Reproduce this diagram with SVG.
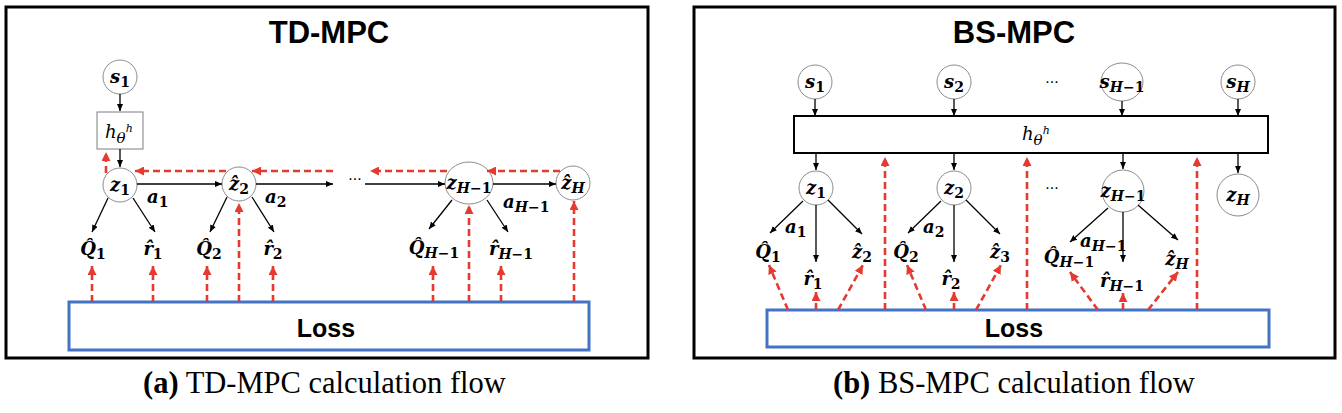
<svg xmlns="http://www.w3.org/2000/svg" width="1342" height="413" viewBox="0 0 1342 413">
<style>
.frame{fill:#fff;stroke:#000;stroke-width:3}
.title{font-family:"Liberation Sans",Arial,sans-serif;font-weight:bold;font-size:31px;fill:#000}
.loss{fill:#fff;stroke:#4472C4;stroke-width:3}
.losst{font-family:"Liberation Sans",Arial,sans-serif;font-weight:bold;font-size:25px;fill:#000}
.node{fill:#fff;stroke:#8c8c8c;stroke-width:1}
.m{font-family:"DejaVu Serif","Liberation Serif",serif;font-weight:bold;font-style:italic;font-size:18px;fill:#000}
.s{font-size:14px;font-style:normal}
.si{font-size:14px;font-style:italic}
.h{font-family:"DejaVu Serif","Liberation Serif",serif;font-style:italic;font-size:18px;fill:#000}
.dots{font-family:"Liberation Sans",Arial,sans-serif;font-size:16px;fill:#000}
.blk{stroke:#000;stroke-width:1.3;fill:none;marker-end:url(#ab)}
.red{stroke:#E53A2F;stroke-width:2.6;stroke-dasharray:7 4;fill:none;marker-end:url(#ar)}
.cap{font-family:"Liberation Serif","Times New Roman",serif;font-size:30.5px;fill:#000}
</style>
<defs>
<marker id="ab" markerUnits="userSpaceOnUse" markerWidth="8" markerHeight="6" refX="7" refY="3" orient="auto"><path d="M0,0 L7,3 L0,6 z" fill="#000"/></marker>
<marker id="ar" markerUnits="userSpaceOnUse" markerWidth="10" markerHeight="9" refX="9" refY="4.5" orient="auto"><path d="M0,0 L9,4.5 L0,9 z" fill="#E53A2F"/></marker>
</defs>

<!-- Panel (a) -->
<g id="panelA">
<rect class="frame" x="6" y="7" width="642" height="351"/>
<text class="title" x="329" y="43" text-anchor="middle">TD-MPC</text>
</g>
<g id="lossA"><rect class="loss" x="69" y="302" width="520" height="48"/><text class="losst" x="326" y="337" text-anchor="middle">Loss</text></g>
<g id="a_s1"><circle class="node" cx="120" cy="77" r="17"/><text class="m" x="120" y="83" text-anchor="middle">s<tspan class="s" dy="4">1</tspan></text></g>
<g id="a_h"><rect x="97" y="112" width="46" height="37" fill="#fff" stroke="#7f7f7f" stroke-width="1"/><text class="h" x="105" y="138">h<tspan font-size="15" dy="5">θ</tspan><tspan font-size="11" dy="-11">h</tspan></text></g>
<g id="a_z1"><circle class="node" cx="120" cy="185" r="17"/><text class="m" x="120" y="191" text-anchor="middle">z<tspan class="s" dy="4">1</tspan></text></g>
<g id="a_z2"><circle class="node" cx="239" cy="184" r="17"/><text class="m" x="239" y="190" text-anchor="middle">ẑ<tspan class="s" dy="4">2</tspan></text></g>
<g id="a_zH1"><ellipse class="node" cx="469" cy="183" rx="24" ry="21"/><text class="m" x="469" y="189" text-anchor="middle">z<tspan class="si" dy="4">H</tspan><tspan class="s">−1</tspan></text></g>
<g id="a_zH"><circle class="node" cx="573" cy="183" r="17"/><text class="m" x="573" y="189" text-anchor="middle">ẑ<tspan class="si" dy="4">H</tspan></text></g>
<g id="a_labels">
<text class="m" x="93" y="255" text-anchor="middle">Q̂<tspan class="s" dy="4">1</tspan></text>
<text class="m" x="153" y="255" text-anchor="middle">r̂<tspan class="s" dy="4">1</tspan></text>
<text class="m" x="209" y="255" text-anchor="middle">Q̂<tspan class="s" dy="4">2</tspan></text>
<text class="m" x="273" y="255" text-anchor="middle">r̂<tspan class="s" dy="4">2</tspan></text>
<text class="m" x="434" y="254" text-anchor="middle">Q̂<tspan class="si" dy="4">H</tspan><tspan class="s">−1</tspan></text>
<text class="m" x="511" y="255" text-anchor="middle">r̂<tspan class="si" dy="4">H</tspan><tspan class="s">−1</tspan></text>
<text class="m" x="147" y="203">a<tspan class="s" dy="4">1</tspan></text>
<text class="m" x="265" y="203">a<tspan class="s" dy="4">2</tspan></text>
<text class="m" x="503" y="208">a<tspan class="si" dy="4">H</tspan><tspan class="s">−1</tspan></text>
<text class="dots" x="355" y="180" text-anchor="middle">...</text>
</g>

<!-- Panel (b) -->
<g id="panelB">
<rect class="frame" x="694" y="7" width="641" height="351"/>
<text class="title" x="1014" y="43" text-anchor="middle">BS-MPC</text>
</g>
<g id="lossB"><rect class="loss" x="767" y="310" width="502" height="37"/><text class="losst" x="1014" y="337" text-anchor="middle">Loss</text></g>
<g id="b_h"><rect x="794" y="116" width="474" height="37" fill="#fff" stroke="#000" stroke-width="2"/><text class="h" x="1022" y="140">h<tspan font-size="15" dy="5">θ</tspan><tspan font-size="11" dy="-11">h</tspan></text></g>
<g id="b_s1"><circle class="node" cx="815" cy="82" r="17"/><text class="m" x="815" y="88" text-anchor="middle">s<tspan class="s" dy="4">1</tspan></text></g>
<g id="b_s2"><circle class="node" cx="954" cy="82" r="17"/><text class="m" x="954" y="88" text-anchor="middle">s<tspan class="s" dy="4">2</tspan></text></g>
<g id="b_sH1"><ellipse class="node" cx="1122" cy="82" rx="21" ry="19"/><text class="m" x="1122" y="88" text-anchor="middle">s<tspan class="si" dy="4">H</tspan><tspan class="s">−1</tspan></text></g>
<g id="b_sH"><circle class="node" cx="1238" cy="82" r="17"/><text class="m" x="1238" y="88" text-anchor="middle">s<tspan class="si" dy="4">H</tspan></text></g>
<g id="b_z1"><circle class="node" cx="816" cy="188" r="17"/><text class="m" x="816" y="194" text-anchor="middle">z<tspan class="s" dy="4">1</tspan></text></g>
<g id="b_z2"><circle class="node" cx="954" cy="188" r="17"/><text class="m" x="954" y="194" text-anchor="middle">z<tspan class="s" dy="4">2</tspan></text></g>
<g id="b_zH1"><ellipse class="node" cx="1123" cy="191" rx="21" ry="21"/><text class="m" x="1123" y="197" text-anchor="middle">z<tspan class="si" dy="4">H</tspan><tspan class="s">−1</tspan></text></g>
<g id="b_zH"><circle class="node" cx="1238" cy="195" r="21"/><text class="m" x="1238" y="201" text-anchor="middle">z<tspan class="si" dy="4">H</tspan></text></g>
<g id="b_labels">
<text class="dots" x="1052" y="83" text-anchor="middle">...</text>
<text class="dots" x="1052" y="189" text-anchor="middle">...</text>
<text class="m" x="768" y="258" text-anchor="middle">Q̂<tspan class="s" dy="4">1</tspan></text>
<text class="m" x="785" y="233">a<tspan class="s" dy="4">1</tspan></text>
<text class="m" x="862" y="258" text-anchor="middle">ẑ<tspan class="s" dy="4">2</tspan></text>
<text class="m" x="813" y="285" text-anchor="middle">r̂<tspan class="s" dy="4">1</tspan></text>
<text class="m" x="906" y="258" text-anchor="middle">Q̂<tspan class="s" dy="4">2</tspan></text>
<text class="m" x="923" y="233">a<tspan class="s" dy="4">2</tspan></text>
<text class="m" x="1000" y="258" text-anchor="middle">ẑ<tspan class="s" dy="4">3</tspan></text>
<text class="m" x="951" y="285" text-anchor="middle">r̂<tspan class="s" dy="4">2</tspan></text>
<text class="m" x="1069" y="263" text-anchor="middle">Q̂<tspan class="si" dy="4">H</tspan><tspan class="s">−1</tspan></text>
<text class="m" x="1080" y="247">a<tspan class="si" dy="4">H</tspan><tspan class="s">−1</tspan></text>
<text class="m" x="1177" y="265" text-anchor="middle">ẑ<tspan class="si" dy="4">H</tspan></text>
<text class="m" x="1122" y="287" text-anchor="middle">r̂<tspan class="si" dy="4">H</tspan><tspan class="s">−1</tspan></text>
</g>

<g id="connectors">
<line class="blk" x1="120" y1="94" x2="120" y2="111"/>
<line class="blk" x1="120" y1="149" x2="120" y2="167"/>
<line class="blk" x1="137" y1="184" x2="222" y2="184"/>
<line class="blk" x1="256" y1="184" x2="333" y2="184"/>
<line class="blk" x1="365" y1="184" x2="445" y2="184"/>
<line class="blk" x1="493" y1="184" x2="556" y2="184"/>
<line class="blk" x1="108" y1="198" x2="92" y2="232"/>
<line class="blk" x1="133" y1="198" x2="155" y2="232"/>
<line class="blk" x1="227" y1="197" x2="210" y2="232"/>
<line class="blk" x1="252" y1="197" x2="274" y2="232"/>
<line class="blk" x1="452" y1="200" x2="429" y2="229"/>
<line class="blk" x1="487" y1="200" x2="508" y2="232"/>
<line class="red" x1="106" y1="173" x2="106" y2="152"/>
<line class="red" x1="226" y1="171" x2="135" y2="171"/>
<line class="red" x1="333" y1="171" x2="252" y2="171"/>
<line class="red" x1="447" y1="171" x2="370" y2="171"/>
<line class="red" x1="560" y1="171" x2="487" y2="171"/>
<line class="red" x1="92" y1="302" x2="92" y2="266"/>
<line class="red" x1="153" y1="302" x2="153" y2="266"/>
<line class="red" x1="207" y1="302" x2="207" y2="266"/>
<line class="red" x1="273" y1="302" x2="273" y2="266"/>
<line class="red" x1="433" y1="302" x2="433" y2="266"/>
<line class="red" x1="501" y1="302" x2="501" y2="266"/>
<line class="red" x1="239" y1="302" x2="239" y2="203"/>
<line class="red" x1="469" y1="302" x2="469" y2="205"/>
<line class="red" x1="574" y1="302" x2="574" y2="201"/>
<line class="blk" x1="815" y1="99" x2="815" y2="116"/>
<line class="blk" x1="954" y1="99" x2="954" y2="116"/>
<line class="blk" x1="1122" y1="101" x2="1122" y2="116"/>
<line class="blk" x1="1238" y1="99" x2="1238" y2="116"/>
<line class="blk" x1="816" y1="153" x2="816" y2="170"/>
<line class="blk" x1="954" y1="153" x2="954" y2="170"/>
<line class="blk" x1="1123" y1="153" x2="1123" y2="169"/>
<line class="blk" x1="1238" y1="153" x2="1238" y2="173"/>
<line class="blk" x1="803" y1="201" x2="770" y2="233"/>
<line class="blk" x1="816" y1="205" x2="816" y2="262"/>
<line class="blk" x1="828" y1="200" x2="862" y2="234"/>
<line class="blk" x1="941" y1="201" x2="908" y2="233"/>
<line class="blk" x1="954" y1="205" x2="954" y2="262"/>
<line class="blk" x1="966" y1="200" x2="1000" y2="234"/>
<line class="blk" x1="1108" y1="208" x2="1070" y2="242"/>
<line class="blk" x1="1123" y1="212" x2="1123" y2="262"/>
<line class="blk" x1="1138" y1="205" x2="1178" y2="240"/>
<line class="red" x1="788" y1="310" x2="769" y2="265"/>
<line class="red" x1="816" y1="310" x2="816" y2="292"/>
<line class="red" x1="838" y1="310" x2="863" y2="265"/>
<line class="red" x1="926" y1="310" x2="907" y2="265"/>
<line class="red" x1="954" y1="310" x2="954" y2="292"/>
<line class="red" x1="976" y1="310" x2="1001" y2="265"/>
<line class="red" x1="1098" y1="310" x2="1070" y2="272"/>
<line class="red" x1="1123" y1="310" x2="1123" y2="293"/>
<line class="red" x1="1148" y1="310" x2="1178" y2="272"/>
<line class="red" x1="885" y1="310" x2="885" y2="157"/>
<line class="red" x1="1027" y1="310" x2="1027" y2="157"/>
<line class="red" x1="1197" y1="310" x2="1197" y2="157"/>
</g>

<g id="captions">
<text class="cap" x="143" y="393"><tspan font-weight="bold">(a)</tspan> TD-MPC calculation flow</text>
<text class="cap" x="833" y="393"><tspan font-weight="bold">(b)</tspan> BS-MPC calculation flow</text>
</g>
</svg>
